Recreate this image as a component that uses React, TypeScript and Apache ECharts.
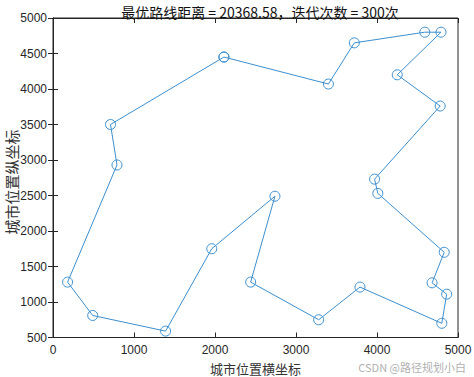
import React, { useEffect, useRef } from "react";
import * as echarts from "echarts";

const routeX = [2110, 3400, 3720, 4590, 4790, 4250, 4780, 3970, 4010, 4830, 4680, 4860, 4800, 3790, 3280, 2440, 2740, 1960, 1390, 490, 180, 790, 710, 2110];
const routeY = [4450, 4070, 4650, 4800, 4800, 4200, 3760, 2730, 2530, 1700, 1270, 1110, 700, 1210, 750, 1280, 2490, 1750, 590, 810, 1280, 2930, 3500, 4450];
const titleText = "最优路线距离 = 20368.58，迭代次数 = 300次";
const xLabel = "城市位置横坐标";
const yLabel = "城市位置纵坐标";
const watermark = "CSDN @路径规划小白";

export default function App() {
  const ref = useRef<HTMLDivElement>(null);
  useEffect(() => {
    if (!ref.current) return;
    const chart = echarts.init(ref.current, null, { renderer: "svg" });
    const axisColor = "#262626";
    const labelFont = "Helvetica, Arial, 'Liberation Sans', sans-serif";
    const fmt = (v: number) => String(v);
    const baseAxis = {
      type: "value" as const,
      axisLine: { show: true, lineStyle: { color: axisColor, width: 1 } },
      axisTick: { show: true, inside: true, length: 5, lineStyle: { color: axisColor } },
      splitLine: { show: false },
    };
    chart.setOption({
      animation: false,
      backgroundColor: "#ffffff",
      title: {
        text: titleText,
        left: 255,
        top: 0,
        textAlign: "center",
        textStyle: { fontSize: 14, fontWeight: "normal", color: "#111", fontFamily: "'Noto Sans CJK SC', sans-serif" },
      },
      grid: { left: 53, right: 16, top: 18, bottom: 39.5, show: true, borderColor: axisColor, borderWidth: 1, containLabel: false, outerBoundsMode: "none" },
      xAxis: [
        {
          ...baseAxis,
          min: 0,
          max: 5000,
          interval: 1000,
          position: "bottom",
          axisLabel: { color: "#262626", fontSize: 12, fontFamily: labelFont, margin: 6, formatter: fmt },
          name: xLabel,
          nameLocation: "middle",
          nameGap: 24,
          nameTextStyle: { fontSize: 13, color: "#333", fontFamily: "'Noto Sans CJK SC', serif" },
        },
        { ...baseAxis, min: 0, max: 5000, interval: 1000, position: "top", axisLabel: { show: false } },
      ],
      yAxis: [
        {
          ...baseAxis,
          min: 500,
          max: 5000,
          interval: 500,
          position: "left",
          axisLabel: { color: "#262626", fontSize: 12, fontFamily: labelFont, margin: 6, formatter: fmt },
        },
        { ...baseAxis, min: 500, max: 5000, interval: 500, position: "right", axisLabel: { show: false } },
      ],
      series: [
        {
          type: "line",
          data: routeX.map((x, i) => [x, routeY[i]]),
          symbol: "circle",
          symbolSize: 10,
          showAllSymbol: true,
          lineStyle: { color: "#3d8fce", width: 1 },
          itemStyle: { color: "rgba(0,0,0,0)", borderColor: "#3d8fce", borderWidth: 1 },
        },
      ],
      graphic: [
        {
          type: "text",
          x: 11,
          y: 182,
          rotation: Math.PI / 2,
          style: {
            text: yLabel,
            fontSize: 15,
            fill: "#333",
            fontFamily: "'Noto Sans CJK SC', serif",
            align: "center",
            verticalAlign: "middle",
          },
        },
        {
          type: "text",
          right: 8,
          top: 361,
          style: { text: watermark, fontSize: 11, fill: "#b0b0b0", fontFamily: "'Noto Sans CJK SC', sans-serif" },
        },
      ],
    });
    return () => chart.dispose();
  }, []);
  return <div ref={ref} style={{ width: 474, height: 377, position: "absolute", left: 0, top: 0 }} />;
}
